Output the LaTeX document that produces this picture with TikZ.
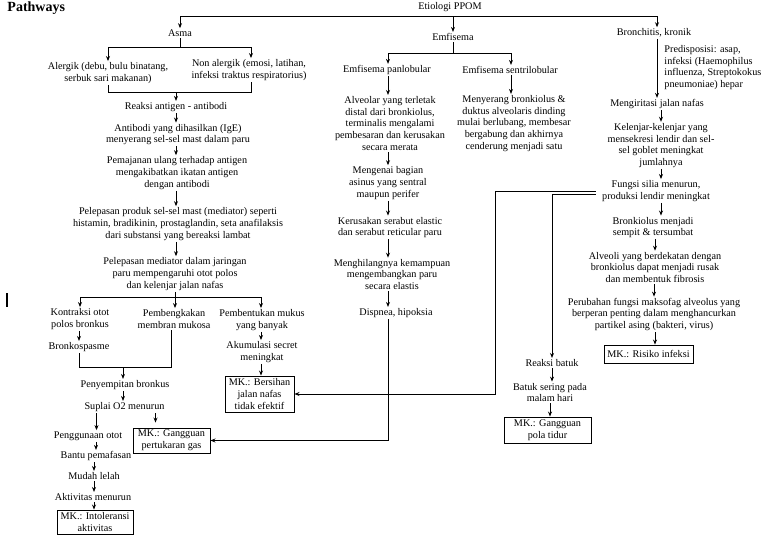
\documentclass[tikz,border=0pt]{standalone}
\usepackage{fontspec}
\setmainfont{Liberation Serif}
\usepackage{tkz-euclide}
\usetikzlibrary{arrows.meta}

\begin{document}
\begin{tikzpicture}[x=1pt, y=-1pt, line width=0.9pt,
    >={Stealth[length=5pt,width=4pt]},
    teks/.style={font=\fontsize{10.2}{11.75}\selectfont, align=center, inner sep=1pt},
    mk/.style={teks, draw, inner sep=0pt}]
    \useasboundingbox (0,0) rectangle (762,539);
    \tkzDefPoints{180/16/T1,453/16/T2,657/16/T3,108/47/A1,251/47/A2,108/92/M1,251/92/M2,176/92/M3,80/297/B1,175/297/B2,261/297/B3,171/367/C2,123/367/C3,388/53/E1,511/53/E2}
    \node[anchor=base west, inner sep=0pt, font=\bfseries\fontsize{14}{16}\selectfont] (judul) at (7,11.5) {Pathways};
    \node[teks] (etiologi) at (450,7) {Etiologi PPOM};
    % asma
    \node[teks] (asma) at (180,33) {Asma};
    \node[teks] (alergik) at (108,73) {Alergik (debu, bulu binatang,\\ serbuk sari makanan)};
    \node[teks] (nonalergik) at (249,70) {Non alergik (emosi, latihan,\\ infeksi traktus respiratorius)};
    \node[teks] (reaksi) at (176,107) {Reaksi antigen - antibodi};
    \node[teks] (antibodi) at (178,134.5) {Antibodi yang dihasilkan (IgE)\\ menyerang sel-sel mast dalam paru};
    \node[teks] (pemajanan) at (177,173) {Pemajanan ulang terhadap antigen\\ mengakibatkan ikatan antigen\\ dengan antibodi};
    \node[teks] (produk) at (178,224) {Pelepasan produk sel-sel mast (mediator) seperti\\ histamin, bradikinin, prostaglandin, seta anafilaksis\\ dari substansi yang bereaksi lambat};
    \node[teks] (mediator) at (175,274) {Pelepasan mediator dalam jaringan\\ paru mempengaruhi otot polos\\ dan kelenjar jalan nafas};
    \node[teks] (kontraksi) at (80,319) {Kontraksi otot\\ polos bronkus};
    \node[teks] (pembengkakan) at (174,319) {Pembengkakan\\ membran mukosa};
    \node[teks] (pembentukan) at (262,320) {Pembentukan mukus\\ yang banyak};
    \node[teks] (bronkospasme) at (79,347) {Bronkospasme};
    \node[teks] (akumulasi) at (262,352) {Akumulasi secret\\ meningkat};
    \node[mk, minimum width=69pt, minimum height=36pt] (bersihan) at (259.5,394) {MK.: Bersihan\\ jalan nafas\\ tidak efektif};
    \node[teks] (penyempitan) at (125,385) {Penyempitan bronkus};
    \node[teks] (suplai) at (124.5,407) {Suplai O2 menurun};
    \node[teks] (penggunaan) at (88,436) {Penggunaan otot};
    \node[teks] (bantu) at (96,456) {Bantu pemafasan};
    \node[teks] (mudah) at (94,476) {Mudah lelah};
    \node[teks] (aktivitas) at (93,497) {Aktivitas menurun};
    \node[mk, minimum width=76pt, minimum height=24pt] (intoleransi) at (95,522) {MK.: Intoleransi\\ aktivitas};
    \node[mk, minimum width=77pt, minimum height=25pt] (gangguan) at (171.5,440.5) {MK.: Gangguan\\ pertukaran gas};
    % emfisema
    \node[teks] (emfisema) at (453,37) {Emfisema};
    \node[teks] (panlobular) at (387,70) {Emfisema panlobular};
    \node[teks] (sentrilobular) at (510,70) {Emfisema sentrilobular};
    \node[teks] (alveolar) at (390,123.5) {Alveolar yang terletak\\ distal dari bronkiolus,\\ terminalis mengalami\\ pembesaran dan kerusakan\\ secara merata};
    \node[teks] (menyerang) at (514,123.5) {Menyerang bronkiolus \&\\ duktus alveolaris dinding\\ mulai berlubang, membesar\\ bergabung dan akhirnya\\ cenderung menjadi satu};
    \node[teks] (mengenai) at (388,183) {Mengenai bagian\\ asinus yang sentral\\ maupun perifer};
    \node[teks] (kerusakan) at (390,227.5) {Kerusakan serabut elastic\\ dan serabut reticular paru};
    \node[teks] (menghilang) at (392,274.5) {Menghilangnya kemampuan\\ mengembangkan paru\\ secara elastis};
    \node[teks] (dispnea) at (396,313) {Dispnea, hipoksia};
    % bronchitis
    \node[teks] (bronkitis) at (654,33) {Bronchitis, kronik};
    \node[teks, align=left, anchor=west] (predisposisi) at (663,67.5) {Predisposisi: asap,\\ infeksi (Haemophilus\\ influenza, Streptokokus\\ pneumoniae) hepar};
    \node[teks] (iritasi) at (657,104) {Mengiritasi jalan nafas};
    \node[teks] (kelenjar) at (661,145.5) {Kelenjar-kelenjar yang\\ mensekresi lendir dan sel-\\ sel goblet meningkat\\ jumlahnya};
    \node[teks] (silia) at (656,191) {Fungsi silia menurun,\\ produksi lendir meningkat};
    \node[teks] (bronkiolus) at (653,227.5) {Bronkiolus menjadi\\ sempit \& tersumbat};
    \node[teks] (alveoli) at (655,267.5) {Alveoli yang berdekatan dengan\\ bronkiolus dapat menjadi rusak\\ dan membentuk fibrosis};
    \node[teks] (makrofag) at (654,314.5) {Perubahan fungsi maksofag alveolus yang\\ berperan penting dalam menghancurkan\\ partikel asing (bakteri, virus)};
    \node[mk, minimum width=89pt, minimum height=18pt] (risiko) at (648.5,354) {MK.: Risiko infeksi};
    \node[teks] (batuk) at (552,363) {Reaksi batuk};
    \node[teks] (malam) at (550,392.5) {Batuk sering pada\\ malam hari};
    \node[mk, minimum width=87pt, minimum height=26pt] (tidur) at (547.5,430) {MK.: Gangguan\\ pola tidur};
    \draw[line width=2pt] (7,293) -- (7,307);
    % panah
    \draw (T1) -- (T3);
    \draw[->] (T1) -- (asma.north);
    \draw[->] (T2) -- (T2 |- emfisema.north);
    \draw[->] (T3) -- (T3 |- bronkitis.north);
    \draw (asma.south) -- (asma.south |- A1);
    \draw (A1) -- (A2);
    \draw[->] (A1) -- (alergik.north);
    \draw[->] (A2) -- (A2 |- nonalergik.north);
    \draw (alergik.south) -- (M1) -- (M2) -- (M2 |- nonalergik.south);
    \draw[->] (M3) -- (reaksi.north);
    \draw[->] (reaksi.south) -- (reaksi.south |- antibodi.north);
    \draw[->] (antibodi.south -| reaksi) -- (reaksi |- pemajanan.north);
    \draw[->] (pemajanan.south -| reaksi) -- (reaksi |- produk.north);
    \draw[->] (produk.south -| reaksi) -- (reaksi |- mediator.north);
    \draw (mediator.south -| B2) -- (B2);
    \draw (B1) -- (B3);
    \draw[->] (B1) -- (B1 |- kontraksi.north);
    \draw[->] (B2) -- (B2 |- pembengkakan.north);
    \draw[->] (B3) -- (B3 |- pembentukan.north);
    \draw[->] (kontraksi.south -| bronkospasme) -- (bronkospasme.north);
    \draw (bronkospasme.south) |- (C2) -- (C2 |- pembengkakan.south);
    \draw[->] (C3) -- (C3 |- penyempitan.north);
    \draw[->] (penyempitan.south -| C3) -- (C3 |- suplai.north);
    \draw[->] ([xshift=-28pt]suplai.south) -- ([xshift=-28pt]suplai.south |- penggunaan.north);
    \draw[->, shorten >=5pt] ([xshift=31pt]suplai.south) -- ([xshift=31pt]suplai.south |- gangguan.north);
    \draw[->] (penggunaan.south -| bantu) -- (bantu.north);
    \draw[->] (bantu.south -| mudah) -- (mudah.north);
    \draw[->] (mudah.south) -- (mudah.south |- aktivitas.north);
    \draw[->] (aktivitas.south -| mudah) -- (mudah |- intoleransi.north);
    \draw[->] (pembentukan.south -| B3) -- (B3 |- akumulasi.north);
    \draw[->] (akumulasi.south -| B3) -- (B3 |- bersihan.north);
    \draw (emfisema.south) -- (emfisema.south |- E1);
    \draw (E1) -- (E2);
    \draw[->] (E1) -- (E1 |- panlobular.north);
    \draw[->] (E2) -- (E2 |- sentrilobular.north);
    \draw[->] (panlobular.south -| E1) -- (E1 |- alveolar.north);
    \draw[->] (sentrilobular.south -| E2) -- (E2 |- menyerang.north);
    \draw[->] (alveolar.south -| E1) -- (E1 |- mengenai.north);
    \draw[->] (mengenai.south -| E1) -- (E1 |- kerusakan.north);
    \draw[->] (kerusakan.south -| E1) -- (E1 |- menghilang.north);
    \draw[->] (menghilang.south -| E1) -- (E1 |- dispnea.north);
    \draw[->] (dispnea.south -| E1) |- (gangguan.east);
    \draw[->] (bronkitis.south -| T3) -- (T3 |- iritasi.north);
    \draw[->] (iritasi.south -| kelenjar) -- (kelenjar.north);
    \draw[->] (kelenjar.south) -- (kelenjar.south |- silia.north);
    \draw[->] (silia.south -| kelenjar) -- (kelenjar |- bronkiolus.north);
    \draw[->] (bronkiolus.south -| alveoli) -- (alveoli.north);
    \draw[->] (alveoli.south -| makrofag) -- (makrofag.north);
    \draw[->] ([xshift=1pt]makrofag.south) -- ([xshift=1pt]makrofag.south |- risiko.north);
    \draw[->] ([xshift=-5pt]silia.west) -- ++(-100,0) |- (bersihan.east);
    \draw[->] ([xshift=-5pt,yshift=-3pt]silia.west) -| (batuk.north);
    \draw[->] (batuk.south) -- (batuk.south |- malam.north);
    \draw[->] (malam.south) -- (malam.south |- tidur.north);
\end{tikzpicture}
\end{document}
